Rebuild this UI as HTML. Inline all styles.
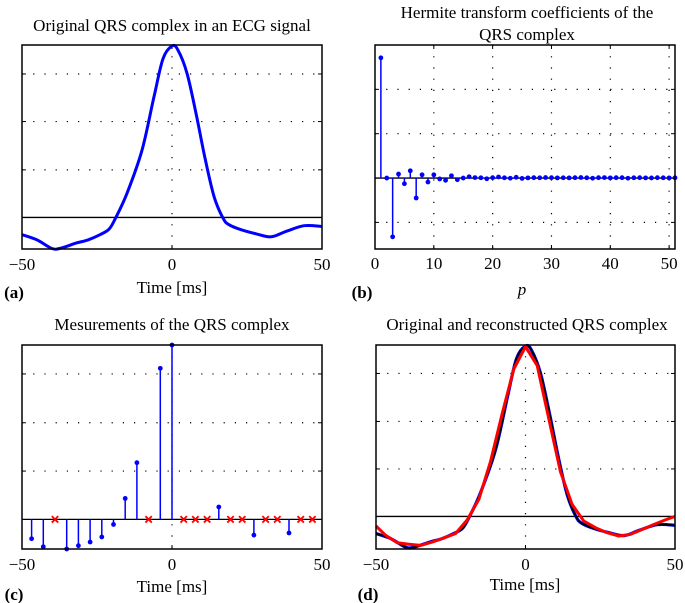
<!DOCTYPE html>
<html><head><meta charset="utf-8"><style>
html,body{margin:0;padding:0;background:#fff}
svg{display:block;font-family:"Liberation Serif",serif}
</style></head><body>
<svg id="fig" width="685" height="603" viewBox="0 0 685 603" xmlns="http://www.w3.org/2000/svg"></svg>
<script>
// Panel (a) original QRS
const aTimes=[-50,-45,-40,-37,-32,-28,-24,-21,-19,-15,-10,-6,-3,0,2,5,8,11,14,17,19,23,28,33,38,44,50];
const aValues=[-0.10,-0.13,-0.18,-0.178,-0.149,-0.13,-0.10,-0.068,-0.01,0.14,0.39,0.70,0.92,0.994,0.97,0.836,0.604,0.344,0.122,-0.004,-0.042,-0.071,-0.095,-0.112,-0.081,-0.048,-0.052];
// Panel (b) Hermite coefficients p=1..51
const bP=[];for(let i=1;i<=51;i++)bP.push(i);
const bValues=[1.356,0,-0.663,0.045,-0.064,0.082,-0.225,0.037,-0.045,0.037,-0.01,-0.026,0.026,-0.019,0,0.015,0.005,0.003,-0.008,0.004,0.012,0.003,-0.002,0.008,-0.004,0.002,0.004,0.003,0.006,0.004,0.002,0.003,0.002,0.004,0.006,0.003,-0.002,0.004,0.005,0.002,0.004,0.004,-0.002,0.003,0.004,0.002,0.001,0.004,0.003,0.002,0.003];
// Panel (c) measurements (k*3.9 ms); masked = red x
const cTimes=[-46.8,-42.9,-39,-35.1,-31.2,-27.3,-23.4,-19.5,-15.6,-11.7,-7.8,-3.9,0,3.9,7.8,11.7,15.6,19.5,23.4,27.3,31.2,35.1,39,42.9,46.8];
const cValues=[-0.111,-0.157,0,-0.17,-0.151,-0.13,-0.101,-0.029,0.12,0.325,0,0.866,1.0,0,0,0,0.071,0,0,-0.09,0,0,-0.078,0,0];
const cMasked=[0,0,1,0,0,0,0,0,0,0,1,0,0,1,1,1,0,1,1,0,1,1,0,1,1];
// Panel (d) reconstruction
const dTimes=[-50,-46.8,-42.9,-39,-35.1,-31.2,-27.3,-23.4,-19.5,-15.6,-11.7,-7.8,-3.9,0,3.9,7.8,11.7,15.6,19.5,23.4,27.3,31.2,35.1,39,42.9,46.8,50];
const dRecon=[-0.056,-0.11,-0.153,-0.162,-0.169,-0.15,-0.125,-0.10,-0.02,0.10,0.32,0.60,0.86,0.99,0.88,0.57,0.26,0.07,-0.027,-0.066,-0.095,-0.114,-0.105,-0.076,-0.047,-0.02,0];
const xTicksTime=[-50,0,50];
const xTickLabelsTime=["\u221250","0","50"];
const xTicksP=[0,10,20,30,40,50];

const NS="http://www.w3.org/2000/svg";
const svg=document.getElementById('fig');
function el(tag,attrs,parent,name){const e=document.createElementNS(NS,tag);for(const k in attrs)e.setAttribute(k,attrs[k]);
 
 
 (parent||svg).appendChild(e);return e;}
function txt(x,y,s,size,name,extra){const t=el('text',Object.assign({x:x,y:y,'font-size':size,'text-anchor':'middle','fill':'#000'},extra||{}),svg,name);t.textContent=s;return t;}

function panel(o){
 const g=el('g',{},svg,o.name);
 const sx=v=>o.L+(v-o.x0)/(o.x1-o.x0)*(o.R-o.L);
 const sy=v=>o.B-(v-o.y0)/(o.y1-o.y0)*(o.B-o.T);
 o.sx=sx;o.sy=sy;o.g=g;
 o.hgrid.forEach(v=>el('line',{x1:o.L,x2:o.R,y1:sy(v),y2:sy(v),stroke:'#000','stroke-width':1.2,'stroke-dasharray':'1.2 10'},g,'h-grid-line'));
 o.vgrid.forEach(v=>el('line',{x1:sx(v),x2:sx(v),y1:o.T,y2:o.B,stroke:'#000','stroke-width':1.2,'stroke-dasharray':'1.2 10'},g,'v-grid-line'));
 el('line',{x1:o.L,x2:o.R,y1:sy(0),y2:sy(0),stroke:'#000','stroke-width':1.3},g,'zero-line');
 o.xticks.forEach(v=>{el('line',{x1:sx(v),x2:sx(v),y1:o.B,y2:o.B-4,stroke:'#000','stroke-width':1},g,'x-tick');el('line',{x1:sx(v),x2:sx(v),y1:o.T,y2:o.T+4,stroke:'#000','stroke-width':1},g,'x-tick');});
 o.hgrid.forEach(v=>{el('line',{x1:o.L,x2:o.L+4,y1:sy(v),y2:sy(v),stroke:'#000','stroke-width':1},g,'y-tick');el('line',{x1:o.R,x2:o.R-4,y1:sy(v),y2:sy(v),stroke:'#000','stroke-width':1},g,'y-tick');});
 return o;
}
function frame(o){el('rect',{x:o.L,y:o.T,width:o.R-o.L,height:o.B-o.T,fill:'none',stroke:'#000','stroke-width':1.5},o.g,'axes-frame');}
function pathD(o,xs,ys){return xs.map((x,i)=>(i?'L':'M')+o.sx(x).toFixed(1)+','+o.sy(ys[i]).toFixed(1)).join(' ');}
function xlabels(o,ticks,labels,y){ticks.forEach((v,i)=>txt(o.sx(v),y,labels[i],17,'x-tick-label'));}
function smooth(o,xs,ys){ // catmull-rom
 const P=xs.map((x,i)=>[o.sx(x),o.sy(ys[i])]);let d='M'+P[0][0]+','+P[0][1];
 for(let i=0;i<P.length-1;i++){const p0=P[i-1]||P[i],p1=P[i],p2=P[i+1],p3=P[i+2]||P[i+1];
  d+=' C'+(p1[0]+(p2[0]-p0[0])/6).toFixed(1)+','+(p1[1]+(p2[1]-p0[1])/6).toFixed(1)+' '+(p2[0]-(p3[0]-p1[0])/6).toFixed(1)+','+(p2[1]-(p3[1]-p1[1])/6).toFixed(1)+' '+p2[0].toFixed(1)+','+p2[1].toFixed(1);}
 return d;}

// (a)
const A=panel({name:'panel-a',L:22,R:322,T:45,B:249,x0:-50,x1:50,y0:-0.183,y1:1,hgrid:[0.276,0.556,0.832],vgrid:[0],xticks:xTicksTime});
el('path',{d:smooth(A,aTimes,aValues),fill:'none',stroke:'#0000ff','stroke-width':3,'stroke-linejoin':'round'},A.g,'qrs-signal-line');
frame(A);
txt(172,31,'Original QRS complex in an ECG signal',17,'panel-a-title');
xlabels(A,xTicksTime,xTickLabelsTime,270);
txt(172,293,'Time [ms]',17,'panel-a-x-axis-title');
txt(14,298,'(a)',17,'panel-a-label',{'font-weight':'bold'});

// (b)
const Bp=panel({name:'panel-b',L:375,R:675,T:45,B:249,x0:0,x1:51,y0:-0.8,y1:1.5,hgrid:[-0.5,0.5,1.0],vgrid:[10,20,30,40,50],xticks:xTicksP});
bP.forEach((p,i)=>{el('line',{x1:Bp.sx(p),x2:Bp.sx(p),y1:Bp.sy(0),y2:Bp.sy(bValues[i]),stroke:'#0000ff','stroke-width':1.5},Bp.g,'coefficient-stem');
 el('circle',{cx:Bp.sx(p),cy:Bp.sy(bValues[i]),r:2.4,fill:'#0000ff'},Bp.g,'coefficient-marker');});
frame(Bp);
txt(527,18,'Hermite transform coefficients of the',17,'panel-b-title-line1');
txt(527,40,'QRS complex',17,'panel-b-title-line2');
xlabels(Bp,xTicksP,xTicksP.map(String),269);
txt(522,295,'p',17,'panel-b-x-axis-title',{'font-style':'italic'});
txt(362,298,'(b)',17,'panel-b-label',{'font-weight':'bold'});

// (c)
const C=panel({name:'panel-c',L:22,R:322,T:345,B:549,x0:-50,x1:50,y0:-0.17,y1:1,hgrid:[0.277,0.554,0.834],vgrid:[0],xticks:xTicksTime});
cTimes.forEach((t,i)=>{
 if(cMasked[i]){const x=C.sx(t),y=C.sy(0),s=3.2;
  el('path',{d:`M${x-s},${y-s}L${x+s},${y+s}M${x-s},${y+s}L${x+s},${y-s}`,stroke:'#ff0000','stroke-width':1.8},C.g,'missing-sample-marker');}
 else{el('line',{x1:C.sx(t),x2:C.sx(t),y1:C.sy(0),y2:C.sy(cValues[i]),stroke:'#0000ff','stroke-width':1.5},C.g,'measurement-stem');
  el('circle',{cx:C.sx(t),cy:C.sy(cValues[i]),r:2.4,fill:'#0000ff'},C.g,'measurement-marker');}
});
frame(C);
txt(172,330,'Mesurements of the QRS complex',17,'panel-c-title');
xlabels(C,xTicksTime,xTickLabelsTime,570);
txt(172,592,'Time [ms]',17,'panel-c-x-axis-title');
txt(14,600,'(c)',17,'panel-c-label',{'font-weight':'bold'});

// (d)
const D=panel({name:'panel-d',L:376,R:675,T:345,B:549,x0:-50,x1:50,y0:-0.19,y1:1,hgrid:[0.277,0.554,0.834],vgrid:[0],xticks:xTicksTime});
el('path',{d:smooth(D,aTimes,aValues),fill:'none',stroke:'#0000ff','stroke-width':3.2},D.g,'original-signal-line');
el('path',{d:smooth(D,aTimes,aValues),fill:'none',stroke:'#000','stroke-width':1.8},D.g,'original-signal-black-line');
el('path',{d:pathD(D,dTimes,dRecon),fill:'none',stroke:'#ff0000','stroke-width':3,'stroke-linejoin':'round'},D.g,'reconstructed-signal-line');
frame(D);
txt(527,330,'Original and reconstructed QRS complex',17,'panel-d-title');
xlabels(D,xTicksTime,xTickLabelsTime,570);
txt(525,590,'Time [ms]',17,'panel-d-x-axis-title');
txt(368,600,'(d)',17,'panel-d-label',{'font-weight':'bold'});
</script>
</body></html>
